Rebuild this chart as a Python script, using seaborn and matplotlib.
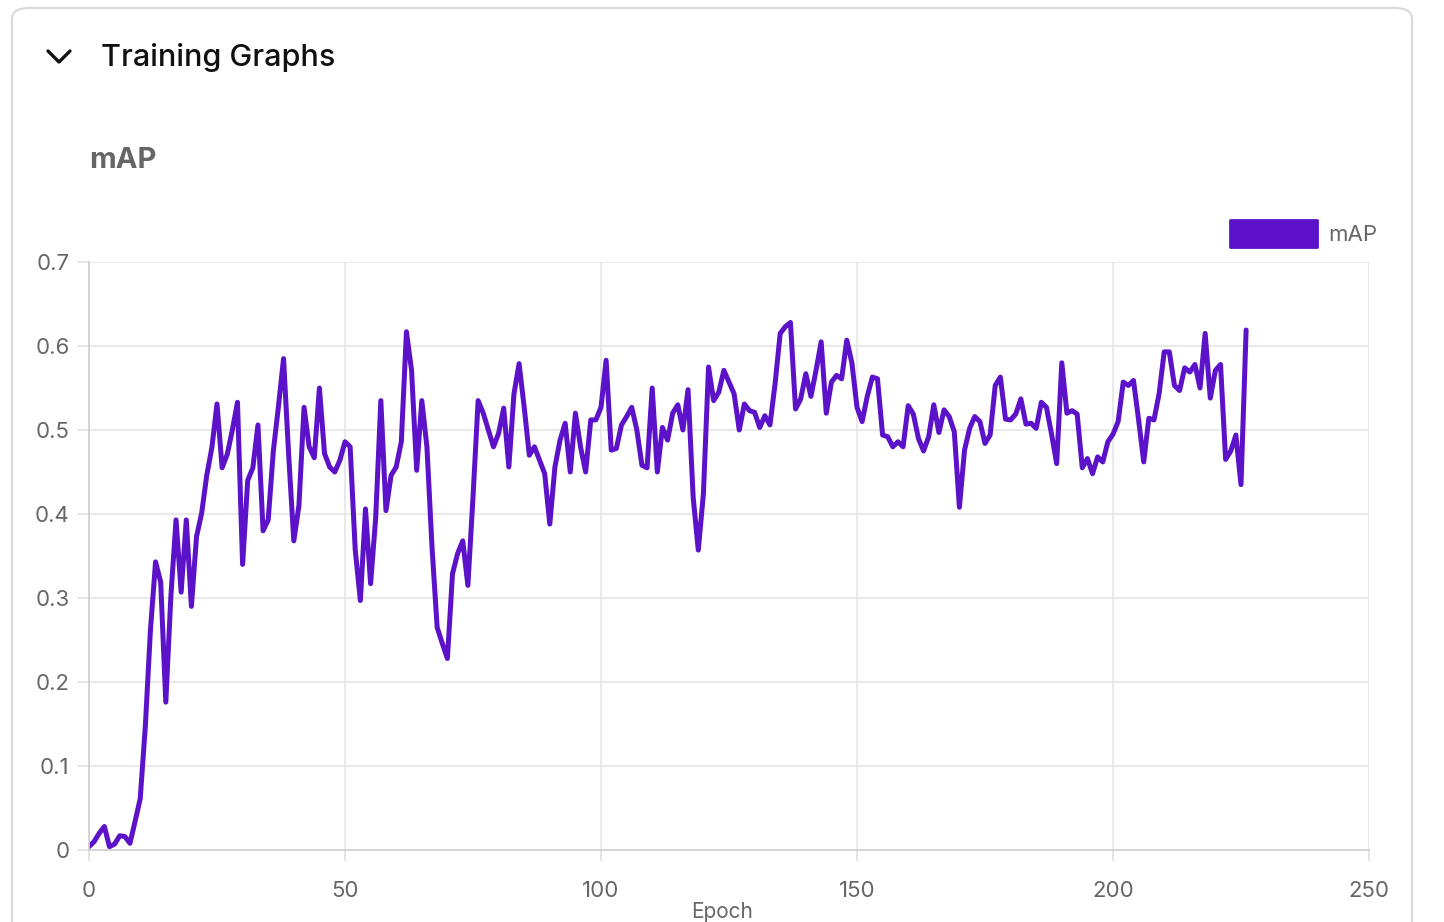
import matplotlib
matplotlib.use("Agg")
import matplotlib.pyplot as plt
from matplotlib.lines import Line2D
from matplotlib.patches import FancyBboxPatch, Patch
import pandas as pd
import seaborn as sns

PURPLE = "#5B12C8"
GRAY = "#666666"

# mAP per epoch (epochs 0..226)
map_0_40 = [0.004, 0.01, 0.02, 0.028, 0.004, 0.007, 0.017, 0.016, 0.008, 0.034,
            0.061, 0.147, 0.262, 0.343, 0.319, 0.176, 0.303, 0.393, 0.307, 0.393,
            0.29, 0.373, 0.401, 0.446, 0.479, 0.531, 0.455, 0.471, 0.5, 0.533,
            0.34, 0.44, 0.455, 0.506, 0.38, 0.393, 0.475, 0.528, 0.585, 0.47, 0.368]
map_41_83 = [0.41, 0.527, 0.48, 0.467, 0.55, 0.472, 0.456, 0.45, 0.464, 0.486,
             0.48, 0.357, 0.297, 0.406, 0.317, 0.396, 0.535, 0.404, 0.446, 0.456,
             0.486, 0.617, 0.571, 0.452, 0.535, 0.48, 0.36, 0.265, 0.246, 0.228,
             0.329, 0.353, 0.368, 0.315, 0.42, 0.535, 0.52, 0.5, 0.48, 0.496,
             0.526, 0.456, 0.543]
map_84_124 = [0.579, 0.527, 0.47, 0.48, 0.464, 0.448, 0.388, 0.456, 0.488, 0.508,
              0.45, 0.52, 0.48, 0.45, 0.512, 0.512, 0.527, 0.583, 0.476, 0.478,
              0.506, 0.516, 0.527, 0.5, 0.458, 0.455, 0.55, 0.45, 0.503, 0.488,
              0.52, 0.53, 0.5, 0.548, 0.42, 0.357, 0.424, 0.575, 0.535, 0.545,
              0.571]
map_125_162 = [0.557, 0.543, 0.5, 0.531, 0.523, 0.521, 0.503, 0.517, 0.506, 0.555,
               0.615, 0.623, 0.628, 0.525, 0.537, 0.567, 0.54, 0.571, 0.605, 0.52,
               0.557, 0.565, 0.561, 0.607, 0.58, 0.527, 0.51, 0.54, 0.563, 0.561,
               0.494, 0.492, 0.48, 0.486, 0.48, 0.529, 0.519, 0.49]
map_163_226 = [0.475, 0.492, 0.53, 0.497, 0.524, 0.516, 0.498, 0.408, 0.476, 0.502,
               0.516, 0.51, 0.484, 0.494, 0.553, 0.563, 0.513, 0.512, 0.519, 0.537,
               0.507, 0.508, 0.502, 0.533, 0.527, 0.495, 0.46, 0.58, 0.52, 0.523,
               0.519, 0.455, 0.466, 0.448, 0.468, 0.462, 0.486, 0.495, 0.51, 0.557,
               0.553, 0.559, 0.512, 0.462, 0.514, 0.512, 0.543, 0.593, 0.593, 0.553,
               0.547, 0.574, 0.569, 0.578, 0.55, 0.615, 0.538, 0.571, 0.578, 0.465,
               0.475, 0.494, 0.435, 0.619]

map_values = map_0_40 + map_41_83 + map_84_124 + map_125_162 + map_163_226
df = pd.DataFrame({"epoch": range(len(map_values)), "mAP": map_values})

x_ticks = [0, 50, 100, 150, 200, 250]
y_ticks = [0, 0.1, 0.2, 0.3, 0.4, 0.5, 0.6, 0.7]
y_labels = ["0", "0.1", "0.2", "0.3", "0.4", "0.5", "0.6", "0.7"]

sns.set_theme(style="white")
plt.rcParams["font.family"] = ["Inter", "DejaVu Sans"]

W, H = 1444, 922
fig = plt.figure(figsize=(W / 100, H / 100), dpi=100)
fig.patch.set_facecolor("white")

# card frame
fig.add_artist(FancyBboxPatch((12 / W, -0.05), 1400 / W, (H - 8) / H + 0.05,
                              boxstyle="round,pad=0,rounding_size=0.012",
                              transform=fig.transFigure, facecolor="none",
                              edgecolor="#d9d9d9", linewidth=1.5))
# chevron
fig.add_artist(Line2D([48 / W, 59 / W, 70 / W], [1 - 51 / H, 1 - 62 / H, 1 - 51 / H],
                      transform=fig.transFigure, color="#111111", linewidth=2.4))
fig.text(101 / W, 1 - 58 / H, "Training Graphs", fontsize=22, fontweight="medium",
         color="#111111", va="center", ha="left")
fig.text(89 / W, 1 - 161 / H, "mAP", fontsize=21, fontweight="bold", color=GRAY,
         va="center", ha="left")

ax = fig.add_axes([89 / W, 1 - 850 / H, 1280 / W, 588 / H])
sns.lineplot(data=df, x="epoch", y="mAP", ax=ax, color=PURPLE, linewidth=3.6)
ax.set_xlim(0, 250)
ax.set_ylim(0, 0.7)
ax.set_xticks(x_ticks)
ax.set_yticks(y_ticks)
ax.set_yticklabels(y_labels)
ax.set_xlabel("")
ax.set_ylabel("")
ax.grid(True, color="#e5e5e5", linewidth=1.2)
for side in ax.spines.values():
    side.set_visible(False)
ax.spines["left"].set_visible(True)
ax.spines["bottom"].set_visible(True)
ax.spines["left"].set_color("#d0d0d0")
ax.spines["bottom"].set_color("#d0d0d0")
ax.tick_params(axis="both", labelsize=16, labelcolor=GRAY, color="#e0e0e0",
               length=8, width=1.2, pad=6, bottom=True, left=True)
ax.tick_params(axis="x", pad=14)

leg = ax.legend(handles=[Patch(facecolor=PURPLE, edgecolor=PURPLE, label="mAP")],
                loc="upper right", bbox_to_anchor=(1397 / W, 1 - 200 / H),
                bbox_transform=fig.transFigure, frameon=False, fontsize=16,
                labelcolor=GRAY, handlelength=3.9, handleheight=1.5, handletextpad=0.5)
for p in leg.get_patches():
    p.set_joinstyle("round")
    p.set_linewidth(2)

fig.text(0.5, 0.0, "Epoch", fontsize=15, color=GRAY, ha="center", va="bottom")

fig.savefig("out.png", dpi=100)
